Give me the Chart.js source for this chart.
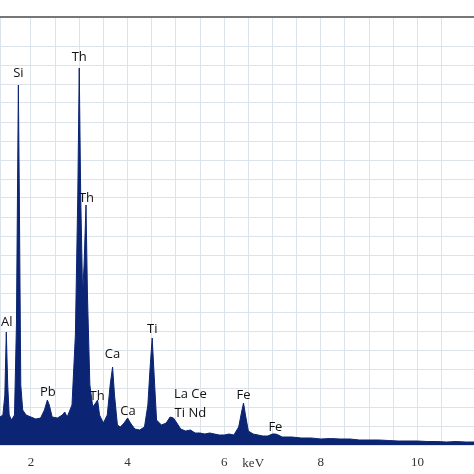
<!DOCTYPE html>
<html><head><meta charset="utf-8">
<script src="https://cdn.jsdelivr.net/npm/chart.js@4/dist/chart.umd.min.js"></script>
<style>html,body{margin:0;padding:0;background:#fff}#w{width:474px;height:474px}</style>
</head><body><div id="w"><canvas id="c"></canvas></div>
<script>
const energy = [1.36,1.42,1.46,1.49,1.52,1.55,1.60,1.66,1.70,1.73,1.74,1.76,1.79,1.83,1.9,2.0,2.1,2.2,2.28,2.34,2.38,2.44,2.55,2.65,2.7,2.75,2.85,2.92,2.97,3.0,3.03,3.07,3.10,3.14,3.17,3.22,3.28,3.34,3.38,3.42,3.5,3.58,3.64,3.69,3.73,3.79,3.85,3.93,4.0,4.06,4.15,4.25,4.35,4.42,4.47,4.51,4.55,4.6,4.7,4.8,4.88,4.95,5.02,5.1,5.2,5.3,5.4,5.5,5.6,5.7,5.8,5.9,6.0,6.1,6.2,6.3,6.36,6.40,6.44,6.5,6.6,6.7,6.8,6.9,7.0,7.06,7.12,7.2,7.4,7.6,7.8,8.0,8.2,8.4,8.6,8.8,9.0,9.2,9.4,9.6,9.8,10.0,10.2,10.4,10.6,10.8,11.0,11.2];
const counts = [28,30,50,113,60,30,25,30,120,300,360,250,60,35,30,28,26,27,35,45,40,28,27,30,33,28,40,110,250,377,250,150,180,240,150,60,38,42,45,30,22,30,60,78,50,20,18,22,27,22,16,15,18,40,80,107,70,25,20,22,28,27,22,16,14,15,12,12,11,12,11,10,10,11,10,18,33,42,30,14,11,10,9,9,11,11,10,8,8,7,7,6,6.5,6,6,5,5,5,4.5,4,4,4,3.5,3.5,3,3.5,3,3];
const peakLabels = ["Si","Th","Th","Al","Pb","Th","Ca","Ca","Ti","La Ce","Ti Nd","Fe","Fe"];
const peakX = [1.74,3.0,3.15,1.5,2.35,3.37,3.69,4.01,4.51,5.3,5.3,6.4,7.06];
const peakY = [372,388,247,123,53,49,91,34,116,51,32,50,18];
const tickValues = [2,4,6,8,10];
const pts = energy.map((e,i)=>({x:e,y:counts[i]}));
const deco = {id:'deco', afterDatasetsDraw(ch){
  const {ctx,scales:{x,y},chartArea:a}=ch;
  ctx.save();
  ctx.fillStyle='#111';ctx.font='13px "Open Sans", sans-serif';ctx.textAlign='center';ctx.textBaseline='middle';
  peakLabels.forEach((t,i)=>ctx.fillText(t,x.getPixelForValue(peakX[i]),y.getPixelForValue(peakY[i])));
  ctx.font='13px "Liberation Serif", serif';ctx.fillStyle='#333';ctx.textBaseline='top';
  ctx.fillText('keV',x.getPixelForValue(6.6),a.bottom+12);
  ctx.strokeStyle='#777';ctx.lineWidth=2;ctx.beginPath();ctx.moveTo(0,a.top);ctx.lineTo(474,a.top);ctx.stroke();
  ctx.restore();
}};
new Chart(document.getElementById('c'),{type:'line',
 data:{datasets:[{data:pts,borderColor:'#0b2574',backgroundColor:'#0b2574',fill:'origin',pointRadius:0,borderWidth:1,tension:0}]},
 options:{responsive:true,maintainAspectRatio:false,animation:false,
  layout:{padding:{top:17,left:0,right:0,bottom:0}},
  plugins:{legend:{display:false},tooltip:{enabled:false}},
  scales:{
   x:{type:'linear',min:1.36,max:11.17,border:{display:false},grid:{color:'#dde3ea',drawTicks:false},
      afterFit(s){s.paddingLeft=0;s.paddingRight=0;s.height=29;},
      ticks:{stepSize:0.5,autoSkip:false,maxRotation:0,padding:10,color:'#333',font:{family:'"Liberation Serif", serif',size:13},
        callback:v=>tickValues.includes(v)?String(v):''}},
   y:{min:0,max:428,display:true,border:{display:false},grid:{color:'#dde3ea',drawTicks:false},ticks:{display:false,stepSize:19},
      afterFit(s){s.width=0;}}
  }}, plugins:[deco]});
</script></body></html>
